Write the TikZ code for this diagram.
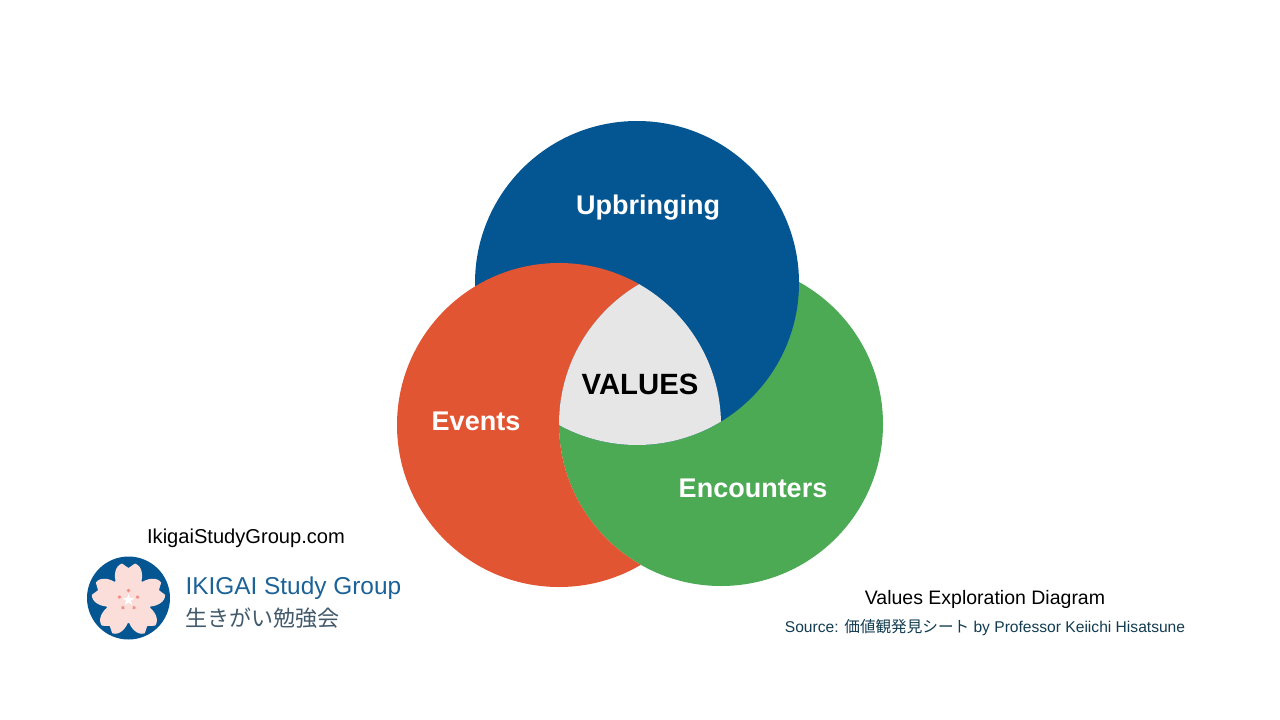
\documentclass[tikz,border=0pt]{standalone}
\usepackage{xcolor}
\usepackage{fontspec}
\usetikzlibrary{shapes.geometric}
\setmainfont{Liberation Sans}
\newfontfamily\cjkfont{Noto Sans CJK JP}

\definecolor{upbringingblue}{HTML}{045692}
\definecolor{eventsred}{HTML}{E25533}
\definecolor{encountersgreen}{HTML}{4CAA54}
\definecolor{valuesgray}{HTML}{E6E6E6}
\definecolor{petalpink}{HTML}{FBDDD9}
\definecolor{dotpink}{HTML}{F28E84}
\definecolor{logoblue}{HTML}{1B6297}
\definecolor{logogray}{HTML}{41596A}
\definecolor{sourceblue}{HTML}{123C50}

\tikzset{
	heading/.style={text=white, font=\bfseries\fontsize{27}{31}\selectfont},
	caption/.style={text=black, font=\fontsize{19.5}{23}\selectfont},
}

\begin{document}
\begin{tikzpicture}[x=1pt, y=-1pt]
	\useasboundingbox (0, 0) rectangle (1280, 720);

	% Draw the three circles, red stays off the green one
	\fill[encountersgreen] (721, 424) circle (162pt);
	\fill[upbringingblue] (637, 283) circle (162pt);
	\begin{scope}[even odd rule]
		\clip (0, 0) rectangle (1280, 720) (721, 424) circle (162pt);
		\fill[eventsred] (559, 425) circle (162pt);
	\end{scope}

	% The middle is gray
	\begin{scope}
		\clip (559, 425) circle (162pt);
		\clip (721, 424) circle (162pt);
		\fill[valuesgray] (637, 283) circle (162pt);
	\end{scope}

	\node[heading] (upbringing) at (648, 208) {Upbringing};
	\node[heading] (events) at (476, 421) {Events};
	\node[heading] (encounters) at (753, 488) {Encounters};
	\node[heading, text=black, font=\bfseries\fontsize{29.3}{33}\selectfont] (values) at (640, 384) {VALUES};

	\node[caption, font=\fontsize{20.1}{24}\selectfont] (website) at (246, 538) {IkigaiStudyGroup.com};
	\node[caption] (title) at (985, 599) {Values Exploration Diagram};
	\node[text=sourceblue, font=\fontsize{15.6}{19}\selectfont] (source) at (985, 628) {Source: {\cjkfont 価値観発見シート} by Professor Keiichi Hisatsune};

	% Draw the logo
	\fill[upbringingblue] (128.5, 598) circle (41.5pt);
	\begin{scope}[shift={(128.5, 600)}, x=1pt, y=1pt]
		\fill[petalpink] (0, 0) circle (23pt);
		\foreach \a in {90, 162, 234, 306, 18} {
			\fill[petalpink, rotate=\a] (-36:21) .. controls (-32:28) and (-22:37) .. (-10:37) -- (0:32) -- (10:37) .. controls (22:37) and (32:28) .. (36:21) -- cycle;
			\fill[dotpink, rotate=\a] (9.5, 0) circle (1.9pt);
		}
		\node[star, star points=5, star point ratio=2.4, fill=white, minimum size=12pt, inner sep=0pt] (logostar) at (0, 0) {};
	\end{scope}

	\node[anchor=west, text=logoblue, font=\fontsize{24.4}{28}\selectfont] (logoname) at (182, 588) {IKIGAI Study Group};
	\node[anchor=west, text=logogray, font=\cjkfont\fontsize{22}{26}\selectfont] (logojapanese) at (182, 618) {生きがい勉強会};
\end{tikzpicture}
\end{document}
